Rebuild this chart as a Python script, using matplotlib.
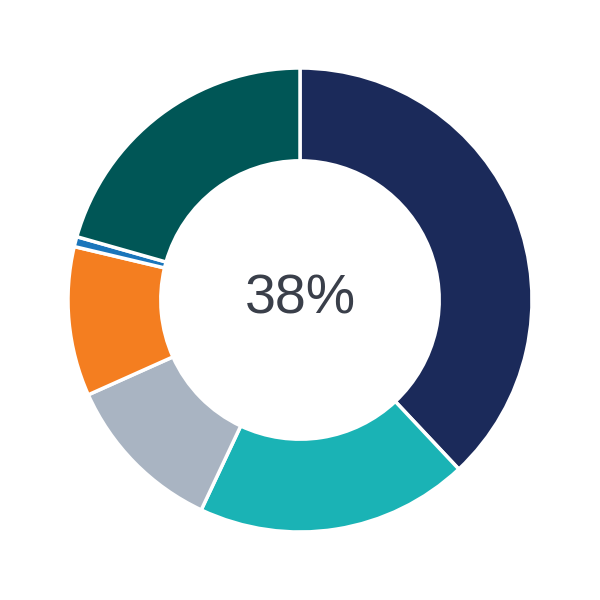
import matplotlib.pyplot as plt

# --- Data ---
labels = ['A', 'B', 'C', 'D', 'E', 'F']
values = [38, 19, 11.3, 10.4, 0.7, 20.6]
colors = ['#1b2a5a', '#1ab3b5', '#a9b4c2', '#f47e20', '#1a75bb', '#005656']
center_text = '38%'

fig = plt.figure(figsize=(6, 6), dpi=100)
ax = fig.add_axes([0, 0, 1, 1])

ax.pie(values, colors=colors, startangle=90, counterclock=False,
       radius=1.0, wedgeprops=dict(width=0.4, edgecolor='white', linewidth=2.5))

ax.text(0, 0, center_text, ha='center', va='center', fontsize=40,
        color='#3a3f4a', family='Liberation Sans')

lim = 300 / 232
ax.set_xlim(-lim, lim)
ax.set_ylim(-lim, lim)
ax.set_aspect('equal')
ax.axis('off')

plt.savefig('out.png', dpi=100)
